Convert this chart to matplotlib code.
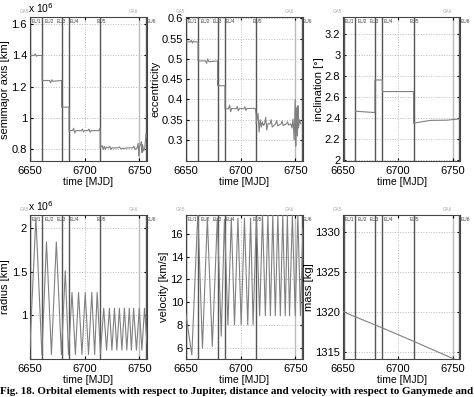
import matplotlib
matplotlib.use('Agg')
import matplotlib.pyplot as plt
from matplotlib.ticker import FuncFormatter

# event epochs (MJD)
eu_names = ['EU1', 'EU2', 'EU3', 'EU4', 'EU5', 'EU6']
eu_times = [6650.4, 6661.2, 6679.0, 6685.8, 6714.3, 6756.2]
ga_names = ['GA5', 'GA6']
ga_times = [6650.0, 6750.0]

# semimajor axis [x 10^6 km]
t_sma = [6650, 6654, 6655, 6656, 6657, 6661.2,
         6661.2, 6668, 6669, 6670, 6671, 6679,
         6679, 6685.8,
         6685.8, 6689, 6690, 6691, 6692, 6697, 6698, 6699, 6700, 6703, 6704, 6705, 6706, 6713, 6714, 6714.3,
         6714.3, 6716, 6717, 6718, 6719, 6720, 6722, 6723, 6724, 6725, 6730, 6732, 6733, 6740, 6744,
         6745, 6746, 6748, 6749, 6749.5, 6750, 6752, 6752.5, 6753, 6754, 6755, 6756.2]
sma = [1.40, 1.40, 1.41, 1.395, 1.40, 1.40,
       1.24, 1.24, 1.225, 1.245, 1.235, 1.24,
       1.07, 1.07,
       0.92, 0.92, 0.935, 0.905, 0.92, 0.92, 0.93, 0.912, 0.92, 0.92, 0.93, 0.91, 0.92, 0.92, 0.935, 0.92,
       0.81, 0.825, 0.80, 0.82, 0.80, 0.815, 0.81, 0.82, 0.80, 0.81, 0.81, 0.815, 0.805, 0.81, 0.81,
       0.82, 0.80, 0.81, 0.84, 0.76, 0.81, 0.85, 0.78, 0.83, 0.79, 0.81, 0.90]

# eccentricity
t_ecc = [6650, 6654, 6655, 6656, 6657, 6658, 6661.2,
         6661.2, 6668, 6669, 6670, 6671, 6679,
         6679, 6685.8,
         6685.8, 6689, 6690, 6691, 6692, 6696, 6697, 6698, 6699, 6703, 6704, 6705, 6706, 6713.5, 6714.3,
         6714.3, 6716, 6717, 6718, 6719, 6720, 6721, 6722, 6723, 6724, 6725, 6727, 6728, 6729, 6732,
         6733, 6734, 6737, 6738, 6739, 6742, 6743, 6744, 6746, 6747, 6748, 6749, 6750, 6750.5, 6751,
         6752, 6752.5, 6753, 6754, 6755]
ecc = [0.542, 0.542, 0.546, 0.539, 0.544, 0.542, 0.542,
       0.495, 0.495, 0.489, 0.500, 0.493, 0.495,
       0.434, 0.434,
       0.377, 0.377, 0.386, 0.370, 0.378, 0.377, 0.383, 0.372, 0.378, 0.377, 0.382, 0.373, 0.378, 0.378, 0.362,
       0.340, 0.366, 0.320, 0.350, 0.332, 0.345, 0.336, 0.340, 0.356, 0.325, 0.340, 0.340, 0.350, 0.332, 0.340,
       0.348, 0.335, 0.340, 0.347, 0.336, 0.340, 0.345, 0.337, 0.340, 0.330, 0.352, 0.300, 0.400, 0.285, 0.380,
       0.310, 0.385, 0.330, 0.350, 0.340]

# inclination [deg]
t_inc = [6661.2, 6679, 6679, 6685.8, 6685.8, 6714.3, 6714.3, 6722, 6730, 6745, 6756.2]
inc = [2.465, 2.452, 2.762, 2.762, 2.652, 2.652, 2.352, 2.365, 2.378, 2.380, 2.392]

# radius [x 10^6 km] (extrema)
t_rad = [6650, 6655.5, 6661.0, 6665.2, 6669.7, 6674.2, 6678.8, 6682.4, 6685.3, 6688.5, 6691.6,
         6694.5, 6697.6, 6700.6, 6703.6, 6706.6, 6709.2, 6711.5, 6714.5, 6717.5, 6720.1, 6722.7,
         6725.0, 6727.3, 6729.5, 6731.8, 6734.1, 6736.4, 6738.6, 6740.9, 6742.8, 6744.8, 6747.4,
         6750.0, 6752.4, 6754.8, 6757.0]
rad = [0.62, 2.12, 0.55, 1.84, 0.55, 1.84, 0.55, 1.51, 0.55, 1.26, 0.55,
       1.26, 0.55, 1.26, 0.55, 1.26, 0.55, 1.26, 0.56, 1.08, 0.60, 1.08,
       0.60, 1.08, 0.60, 1.08, 0.60, 1.08, 0.60, 1.08, 0.60, 1.08, 0.60,
       1.08, 0.60, 1.08, 0.68]

# velocity [km/s] (extrema)
t_vel = t_rad
vel = [9.0, 5.35, 17.9, 5.95, 17.4, 6.1, 17.4, 7.0, 17.3, 8.0, 17.4,
       8.0, 17.4, 8.0, 17.4, 8.0, 17.4, 8.0, 17.5, 8.8, 17.7, 8.8,
       17.7, 8.8, 17.7, 8.8, 17.7, 8.8, 17.7, 8.8, 17.7, 8.8, 17.7,
       8.8, 17.7, 8.8, 16.5]

# mass [kg]
t_mass = [6650, 6662, 6680, 6687, 6716, 6751, 6756]
mass = [1320.0, 1319.3, 1318.3, 1317.9, 1316.2, 1314.1, 1313.8]


def add_events(ax):
    # label shifts (days) relative to each event line, as in the original
    eu_shift = [1.0, 2.0, -4.5, 0.8, -3.5, 0.9]
    for name, t in zip(ga_names, ga_times):
        ax.axvline(t, color='#bbbbbb', lw=1.0, zorder=1)
        ax.text(t - 0.8, 1.02, name, transform=ax.get_xaxis_transform(), ha='right', va='bottom',
                fontsize=3.3, color='#aaaaaa', clip_on=False)
    for name, t, dx in zip(eu_names, eu_times, eu_shift):
        ax.axvline(t, color='#555555', lw=1.0, zorder=2)
        ax.text(t + dx, 0.985, name, transform=ax.get_xaxis_transform(), ha='left', va='top',
                fontsize=3.5, color='#444444', clip_on=False, zorder=1.5)


if __name__ == '__main__':
    plt.rcParams['font.family'] = ['Liberation Sans', 'DejaVu Sans']

    fig = plt.figure(figsize=(4.74, 3.97), dpi=100)
    lefts = [0.063, 0.392, 0.724]
    w, h = 0.247, 0.363
    bots = [0.594, 0.096]

    panels = [
        (t_sma, sma, 'semimajor axis [km]', (0.725, 1.645), [0.8, 1, 1.2, 1.4, 1.6]),
        (t_ecc, ecc, 'eccentricity', (0.248, 0.603), [0.3, 0.35, 0.4, 0.45, 0.5, 0.55, 0.6]),
        (t_inc, inc, 'inclination [°]', (1.99, 3.36), [2, 2.2, 2.4, 2.6, 2.8, 3, 3.2]),
        (t_rad, rad, 'radius [km]', (0.5, 2.15), [1, 1.5, 2]),
        (t_vel, vel, 'velocity [km/s]', (5.0, 17.7), [6, 8, 10, 12, 14, 16]),
        (t_mass, mass, 'mass [kg]', (1314.1, 1332.1), [1315, 1320, 1325, 1330]),
    ]

    for i, (t, y, lab, ylim, yt) in enumerate(panels):
        ax = fig.add_axes([lefts[i % 3], bots[i // 3], w, h])
        add_events(ax)
        ax.plot(t, y, color='#808080', lw=0.8, zorder=3)
        ax.set_xlim(6650, 6757)
        ax.set_ylim(*ylim)
        ax.set_xticks([6650, 6700, 6750])
        ax.set_yticks(yt)
        ax.yaxis.set_major_formatter(FuncFormatter(lambda v, p: '%g' % v))
        ax.grid(True, linestyle=':', color='#bbbbbb', lw=0.7)
        ax.tick_params(direction='in', length=2, labelsize=8, top=True, right=True, pad=2)
        ax.tick_params(axis='x', pad=3.5)
        ax.set_xlabel('time [MJD]', fontsize=7.5, labelpad=1)
        ax.set_ylabel(lab, fontsize=8, labelpad=1)
        for s in ax.spines.values():
            s.set_color('#444444')
            s.set_linewidth(0.8)
        if i in (0, 3):
            ax.text(-0.02, 1.012, r'x 10$^6$', transform=ax.transAxes, fontsize=7.5, ha='left', va='bottom')

    fig.text(0.0, 0.024, 'Fig. 18. Orbital elements with respect to Jupiter, distance and velocity with respect to Ganymede and',
             fontsize=7.9, fontweight='bold', family='Liberation Serif', ha='left', va='top')
    plt.savefig('out.png', dpi=100)
